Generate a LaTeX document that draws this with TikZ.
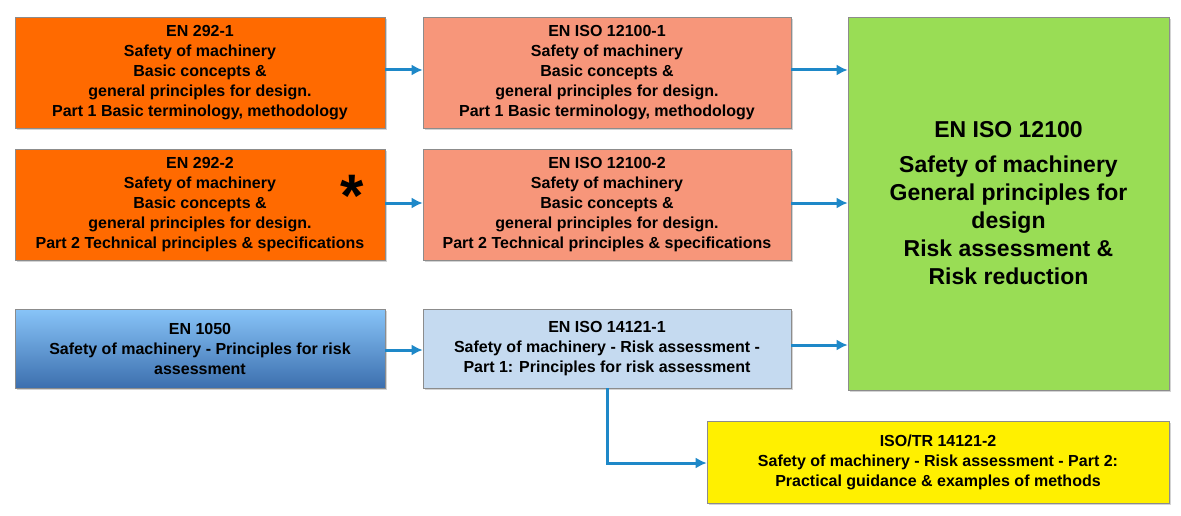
\documentclass[tikz,border=0pt]{standalone}
\usepackage{fontspec}
\setmainfont{Liberation Sans}
\usetikzlibrary{shadows,arrows.meta}
\definecolor{org}{HTML}{FF6A00}
\definecolor{sal}{HTML}{F7967A}
\definecolor{grn}{HTML}{99DD55}
\definecolor{lbl}{HTML}{C5DAF0}
\definecolor{yel}{HTML}{FFF000}
\definecolor{arr}{HTML}{1E88C8}
\definecolor{btop}{HTML}{88C4F8}
\definecolor{bbot}{HTML}{3C6FAE}
\begin{document}
\begin{tikzpicture}[x=1pt,y=-1pt,
 box/.style={draw=black!45,line width=0.6pt,drop shadow={opacity=0.35,shadow xshift=2pt,shadow yshift=-2pt},font=\bfseries\fontsize{16}{20}\selectfont,align=center,inner sep=0pt},
 con/.style={draw=arr,line width=3pt,-{Latex[length=11pt,width=11pt]}}]
\useasboundingbox (0,0) rectangle (1181,516);
\node[box,fill=org,minimum width=370,minimum height=111] (a1) at (200,72.5) {EN 292-1\\Safety of machinery\\Basic concepts \&\\general principles for design.\\Part 1 Basic terminology, methodology};
\node[box,fill=org,minimum width=370,minimum height=111] (a2) at (200,204.5) {EN 292-2\\Safety of machinery\\Basic concepts \&\\general principles for design.\\Part 2 Technical principles \& specifications};
\node[box,fill=sal,minimum width=368,minimum height=111] (b1) at (607,72.5) {EN ISO 12100-1\\Safety of machinery\\Basic concepts \&\\general principles for design.\\Part 1 Basic terminology, methodology};
\node[box,fill=sal,minimum width=368,minimum height=111] (b2) at (607,204.5) {EN ISO 12100-2\\Safety of machinery\\Basic concepts \&\\general principles for design.\\Part 2 Technical principles \& specifications};
\node[box,top color=btop,bottom color=bbot,minimum width=370,minimum height=79] (c1) at (200,348.5) {EN 1050\\Safety of machinery - Principles for risk\\assessment};
\node[box,fill=lbl,minimum width=368,minimum height=79] (c2) at (607,348.5) {EN ISO 14121-1\\Safety of machinery - Risk assessment -\\Part 1: Principles for risk assessment};
\node[box,fill=grn,minimum width=321,minimum height=373,font=\bfseries\fontsize{23}{28}\selectfont] (g) at (1008.5,203.5) {EN ISO 12100\\[7pt]Safety of machinery\\General principles for\\design\\Risk assessment \&\\Risk reduction};
\node[box,fill=yel,minimum width=462,minimum height=82] (y) at (938,462) {ISO/TR 14121-2\\Safety of machinery - Risk assessment - Part 2:\\Practical guidance \& examples of methods};
\node[font=\bfseries\fontsize{60}{60}\selectfont] (ast) at (352,196) {*};
\draw[con] (a1.east |- 0,70) -- (b1.west |- 0,70);
\draw[con] (b1.east |- 0,70) -- (g.west |- 0,70);
\draw[con] (a2.east |- 0,203) -- (b2.west |- 0,203);
\draw[con] (b2.east |- 0,203) -- (g.west |- 0,203);
\draw[con] (c1.east |- 0,350) -- (c2.west |- 0,350);
\draw[con] (c2.east |- 0,345) -- (g.west |- 0,345);
\draw[con] (c2.south -| 607,0) -- (607,463) -- (y.west |- 0,463);
\end{tikzpicture}
\end{document}
